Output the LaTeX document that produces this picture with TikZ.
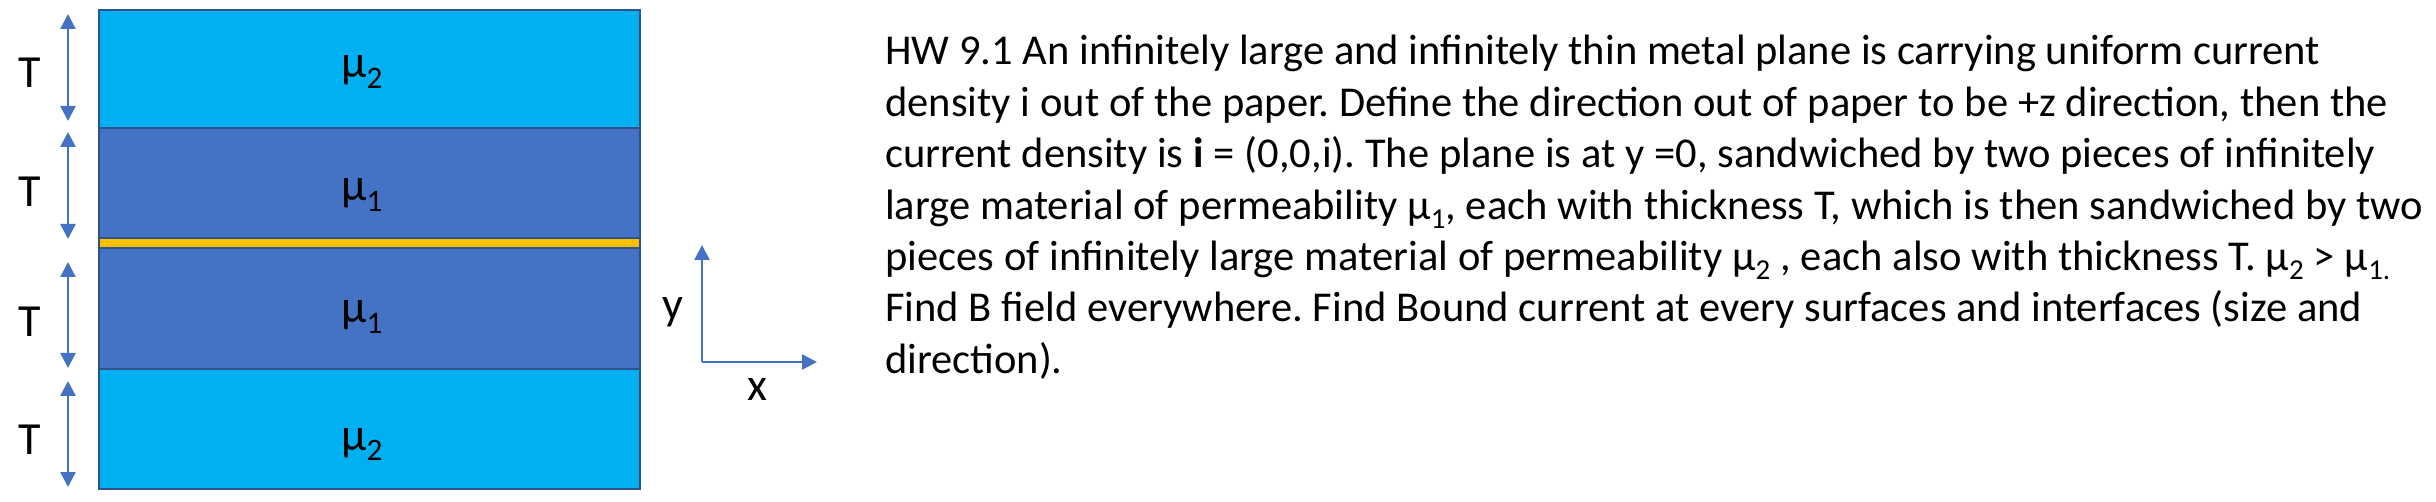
\documentclass[tikz,border=0pt]{standalone}
\usepackage{fontspec}
\usepackage{graphicx}
\setmainfont{Carlito}
\frenchspacing
\usetikzlibrary{arrows.meta}
\definecolor{lblue}{HTML}{00B0F0}
\definecolor{mblue}{HTML}{4472C4}
\definecolor{dblue}{HTML}{2F528F}
\definecolor{gold}{HTML}{FFC000}
\newcommand{\lsub}[1]{\raisebox{-0.22em}{\scalebox{0.68}{#1}}}
\newcommand{\jline}[2]{\hbox to #1pt{#2}}
\tikzset{
  layer/.style={draw=dblue, line width=2pt},
  dimarrow/.style={mblue, line width=2.5pt, {Triangle[width=15pt,length=15pt]}-{Triangle[width=15pt,length=15pt]}},
  axarrow/.style={mblue, line width=2.5pt, -{Triangle[width=15pt,length=15pt]}},
  biglabel/.style={font=\fontsize{46}{50}\selectfont, inner sep=0pt},
  mulabel/.style={font=\fontsize{46}{50}\selectfont, inner sep=0pt, anchor=base},
  txt/.style={font=\fontsize{42.5}{50}\selectfont, inner sep=0pt, anchor=base west},
}
\begin{document}
\begin{tikzpicture}[x=1pt, y=-1pt]
\useasboundingbox (0,0) rectangle (2436,502);
% layers
\filldraw[layer, fill=lblue] (99,10) rectangle (640,128);
\filldraw[layer, fill=mblue] (99,128) rectangle (640,238);
\filldraw[layer, fill=gold] (99,238) rectangle (640,248);
\filldraw[layer, fill=mblue] (99,248) rectangle (640,369);
\filldraw[layer, fill=lblue] (99,369) rectangle (640,489);
% mu labels
\node[mulabel] (m1) at (362,78) {μ\lsub{2}};
\node[mulabel] (m2) at (362,201) {μ\lsub{1}};
\node[mulabel] (m3) at (362,323) {μ\lsub{1}};
\node[mulabel] (m4) at (362,450) {μ\lsub{2}};
% dimension arrows
\coordinate (a1t) at (68,14);  \coordinate (a1b) at (68,121);
\coordinate (a2t) at (68,132); \coordinate (a2b) at (68,239);
\coordinate (a3t) at (68,262); \coordinate (a3b) at (68,368);
\coordinate (a4t) at (68,381); \coordinate (a4b) at (68,487);
\draw[dimarrow] (a1t) -- (a1b);
\draw[dimarrow] (a2t) -- (a2b);
\draw[dimarrow] (a3t) -- (a3b);
\draw[dimarrow] (a4t) -- (a4b);
\node[biglabel] (t1) at (30,73) {T};
\node[biglabel] (t2) at (30,192) {T};
\node[biglabel] (t3) at (30,322) {T};
\node[biglabel] (t4) at (30,440) {T};
% axes
\coordinate (o) at (702,362);
\coordinate (ytip) at (702,245);
\coordinate (xtip) at (817,362);
\draw[axarrow] (o) -- (ytip);
\draw[axarrow] (o) -- (xtip);
\node[biglabel] (ylab) at (673,312) {y};
\node[biglabel] (xlab) at (757,390) {x};
% text
\node[txt] (l1) at (885,65) {\jline{1435}{HW 9.1 An infinitely large and infinitely thin metal plane is carrying uniform current}};
\node[txt] (l2) at (885,116.4) {\jline{1503}{density i out of the paper. Define the direction out of paper to be +z direction, then the}};
\node[txt] (l3) at (885,167.8) {\jline{1490}{current density is \textbf{i} = (0,0,i). The plane is at y =0, sandwiched by two pieces of infinitely}};
\node[txt] (l4) at (885,219.2) {\jline{1538}{large material of permeability μ\lsub{1}, each with thickness T, which is then sandwiched by two}};
\node[txt] (l5) at (885,270.6) {\jline{1505}{pieces of infinitely large material of permeability μ\lsub{2} , each also with thickness T. μ\lsub{2} > μ\lsub{1.}}};
\node[txt] (l6) at (885,322) {\jline{1477}{Find B field everywhere. Find Bound current at every surfaces and interfaces (size and}};
\node[txt] (l7) at (885,373.4) {direction).};
\end{tikzpicture}
\end{document}
